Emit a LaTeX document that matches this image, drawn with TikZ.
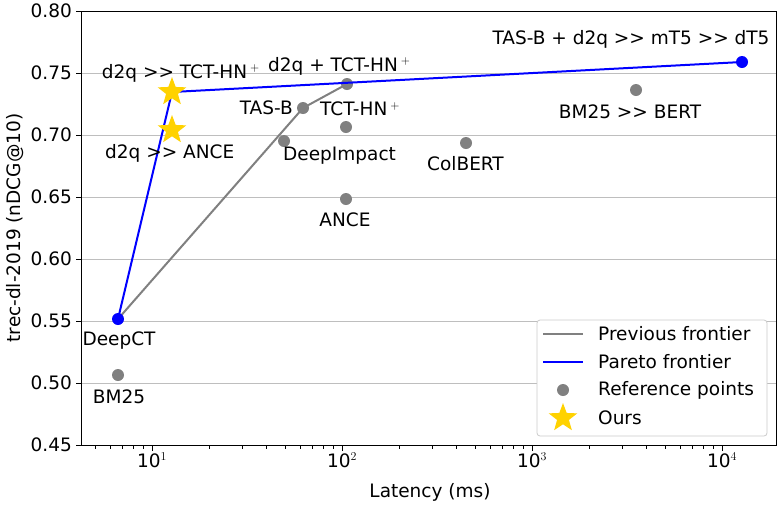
\documentclass[tikz,border=0pt]{standalone}
\usepackage{fontspec}
\setmainfont{DejaVu Sans}[Ligatures=NoCommon]
\usetikzlibrary{shapes.geometric}
\definecolor{gpt}{RGB}{128,128,128}
\definecolor{gold}{RGB}{255,210,0}
\definecolor{grid}{RGB}{190,190,190}
\newcommand{\dblgt}{{>}{>}}
\tikzset{
  every node/.style={font=\fontsize{18.5}{21}\selectfont, inner sep=0pt},
  refpt/.style={circle, fill=gpt, minimum size=12pt},
  bluept/.style={circle, fill=blue, minimum size=12pt},
  ours/.style={star, star points=5, star point ratio=2.4, fill=gold, minimum size=30pt, inner sep=0pt},
  prevline/.style={gpt, line width=2pt},
  paretoline/.style={blue, line width=2pt},
}
\begin{document}
\begin{tikzpicture}[x=1pt,y=-1pt]
\useasboundingbox (0,0) rectangle (779,507);
\foreach \i in {1,...,6}{ \draw[grid, line width=1pt] (81,{11+62*\i}) -- (776,{11+62*\i}); }
\foreach \i/\t in {0/0.80,1/0.75,2/0.70,3/0.65,4/0.60,5/0.55,6/0.50,7/0.45}{
  \draw[line width=0.8pt] (76,{11+62*\i}) -- (81,{11+62*\i});
  \node[anchor=east] (yt\i) at (72,{11+62*\i}) {\t};
}
\foreach \e/\x in {1/152,2/342,3/532,4/722}{
  \draw[line width=0.8pt] (\x,445) -- (\x,451);
  \node[anchor=north] (xt\e) at (\x,453) {10$^{\e}$};
}
\foreach \d in {0,1,2,3,4}{
  \foreach \m in {2,...,9}{
    \pgfmathsetmacro\xx{152+190*(\d-1+log10(\m))}
    \pgfmathparse{(\xx>81)&&(\xx<776)?1:0}
    \ifnum\pgfmathresult=1 \draw[line width=0.6pt] (\xx,445) -- (\xx,449);\fi
  }
}
\node (xl) at (430,492) {Latency (ms)};
\node[rotate=90] (yl) at (15,228) {trec-dl-2019 (nDCG@10)};
\node[refpt] (bm25) at (118,375) {};
\node[refpt] (deepimpact) at (284,141) {};
\node[refpt] (tct) at (346,127) {};
\node[refpt] (ance) at (346,199) {};
\node[refpt] (colbert) at (466,143) {};
\node[refpt] (bert) at (636,90) {};
\node[refpt] (tasb) at (303,108) {};
\node[refpt] (d2qtct) at (347,84) {};
\coordinate (deepctc) at (118,319);
\coordinate (topc) at (742,62);
\coordinate (s1c) at (172,92);
\draw[prevline] (deepctc) -- (tasb.center) -- (d2qtct.center);
\draw[paretoline] (deepctc) -- (s1c) -- (topc);
\node[bluept] (deepct) at (deepctc) {};
\node[bluept] (top) at (topc) {};
\node[ours] (s1) at (s1c) {};
\node[ours] (s2) at (172,130) {};
\node (l1) at (631,39) {TAS-B + d2q \dblgt{} mT5 \dblgt{} dT5};
\node[anchor=east] (l2) at (260,73) {d2q \dblgt{} TCT-HN\,$^+$};
\node[anchor=west] (l3) at (268,66) {d2q + TCT-HN\,$^+$};
\node[anchor=east] (l4) at (293,108) {TAS-B};
\node[anchor=west] (l5) at (320,109) {TCT-HN\,$^+$};
\node[anchor=west] (l6) at (105,153) {d2q \dblgt{} ANCE};
\node[anchor=west] (l7) at (283,156) {DeepImpact};
\node[anchor=west] (l8) at (427,164) {ColBERT};
\node (l9) at (345,220) {ANCE};
\node (l10) at (630,112) {BM25 \dblgt{} BERT};
\node (l11) at (119,341) {DeepCT};
\node (l12) at (119,397) {BM25};
\draw[line width=1pt] (81,11) rectangle (776,445);
\draw[grid!80, fill=white, rounded corners=3pt, line width=0.8pt] (537,320) rectangle (767,436);
\draw[prevline] (543,334) -- (583,334);
\node[anchor=west] (lg1) at (598,334) {Previous frontier};
\draw[paretoline] (543,362) -- (583,362);
\node[anchor=west] (lg2) at (598,362) {Pareto frontier};
\node[refpt] (lgp) at (563,390) {};
\node[anchor=west] (lg3) at (598,390) {Reference points};
\node[ours] (lgs) at (563,418) {};
\node[anchor=west] (lg4) at (598,418) {Ours};
\end{tikzpicture}
\end{document}
